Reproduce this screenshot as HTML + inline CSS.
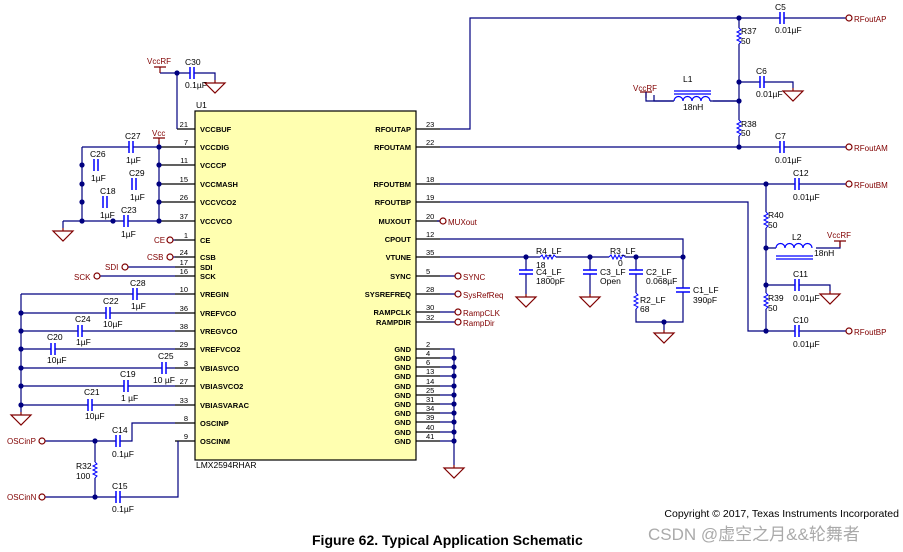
<!DOCTYPE html>
<html><head><meta charset="utf-8"><style>
html,body{margin:0;padding:0;background:#fff;}
svg{display:block;}
text{font-family:"Liberation Sans",sans-serif;}
.w{stroke:#000080;stroke-width:1.2;fill:none;}
.k{stroke:#000;stroke-width:1.2;fill:none;}
.l{font-size:8.5px;fill:#000;}
.p{font-size:7.5px;fill:#000;font-weight:bold;}
.n{font-size:7.5px;fill:#000;}
.r{font-size:8px;fill:#800000;}
</style></head><body>
<svg width="903" height="552" viewBox="0 0 903 552" xmlns="http://www.w3.org/2000/svg">
<defs>
<g id="ch"><rect x="-2" y="-3" width="4" height="6" fill="#fff"/><path d="M-2,-6V6M2,-6V6" stroke="#0000ff" stroke-width="1.5"/></g>
<g id="cv"><rect x="-3" y="-2" width="6" height="4" fill="#fff"/><path d="M-7,-2H7M-7,2H7" stroke="#0000ff" stroke-width="1.5"/></g>
<g id="rv"><rect x="-2" y="-8" width="4" height="16" fill="#fff"/><path d="M0,-8l2,2l-4,2l4,2l-4,2l4,2l-4,2l4,2l-2,2" stroke="#0000ff" stroke-width="1" fill="none"/></g>
<g id="rh"><rect x="-8" y="-2" width="16" height="4" fill="#fff"/><path d="M-8,0l2,-2l2,4l2,-4l2,4l2,-4l2,4l2,-4l2,2" stroke="#0000ff" stroke-width="1" fill="none"/></g>
<g id="gnd"><path d="M0,0v3M-10,3h20l-10,10z" stroke="#800000" stroke-width="1.2" fill="#fff"/></g>
<circle id="d" r="2.6" fill="#000080"/>
<circle id="o" r="3" fill="#fff" stroke="#800000" stroke-width="1.2"/>
<g id="vcc"><path d="M-6,0h12M0,0v6" stroke="#800000" stroke-width="1.2"/></g>
</defs>

<rect x="195" y="111" width="221" height="349" fill="#ffffb0" stroke="#000" stroke-width="1.2"/>
<text x="196" y="108" class="l">U1</text>
<text x="196" y="468" class="l">LMX2594RHAR</text>

<g class="k">
<path d="M177,129H195M159,147H195M159,165H195M159,184H195M159,202H195M159,221H195M175,240H195M175,257H195M175,267H195M175,276H195M175,294H195M175,313H195M175,331H195M175,349H195M175,368H195M175,386H195M175,405H195M175,423H195M175,441H195"/>
</g>
<g class="p">
<text x="200" y="132">VCCBUF</text><text x="200" y="150">VCCDIG</text><text x="200" y="168">VCCCP</text>
<text x="200" y="187">VCCMASH</text><text x="200" y="205">VCCVCO2</text><text x="200" y="224">VCCVCO</text>
<text x="200" y="243">CE</text><text x="200" y="260">CSB</text><text x="200" y="270">SDI</text><text x="200" y="279">SCK</text>
<text x="200" y="297">VREGIN</text><text x="200" y="316">VREFVCO</text><text x="200" y="334">VREGVCO</text>
<text x="200" y="352">VREFVCO2</text><text x="200" y="371">VBIASVCO</text><text x="200" y="389">VBIASVCO2</text>
<text x="200" y="408">VBIASVARAC</text><text x="200" y="426">OSCINP</text><text x="200" y="444">OSCINM</text>
</g>
<g class="n" text-anchor="end">
<text x="188" y="127">21</text><text x="188" y="145">7</text><text x="188" y="163">11</text><text x="188" y="182">15</text>
<text x="188" y="200">26</text><text x="188" y="219">37</text><text x="188" y="238">1</text><text x="188" y="255">24</text>
<text x="188" y="265">17</text><text x="188" y="274">16</text><text x="188" y="292">10</text><text x="188" y="311">36</text>
<text x="188" y="329">38</text><text x="188" y="347">29</text><text x="188" y="366">3</text><text x="188" y="384">27</text>
<text x="188" y="403">33</text><text x="188" y="421">8</text><text x="188" y="439">9</text>
</g>

<g class="k">
<path d="M416,129H440M416,147H440M416,184H440M416,202H440M416,221H440M416,239H440M416,257H440M416,276H440M416,294H440M416,312H440M416,322H440"/>
<path d="M416,349H440M416,358H440M416,367H440M416,376H440M416,386H440M416,395H440M416,404H440M416,413H440M416,422H440M416,432H440M416,441H440"/>
</g>
<g class="p" text-anchor="end">
<text x="411" y="132">RFOUTAP</text><text x="411" y="150">RFOUTAM</text><text x="411" y="187">RFOUTBM</text>
<text x="411" y="205">RFOUTBP</text><text x="411" y="224">MUXOUT</text><text x="411" y="242">CPOUT</text>
<text x="411" y="260">VTUNE</text><text x="411" y="279">SYNC</text><text x="411" y="297">SYSREFREQ</text>
<text x="411" y="315">RAMPCLK</text><text x="411" y="325">RAMPDIR</text>
<text x="411" y="352">GND</text><text x="411" y="361">GND</text><text x="411" y="370">GND</text><text x="411" y="379">GND</text>
<text x="411" y="389">GND</text><text x="411" y="398">GND</text><text x="411" y="407">GND</text><text x="411" y="416">GND</text>
<text x="411" y="425">GND</text><text x="411" y="435">GND</text><text x="411" y="444">GND</text>
</g>
<g class="n">
<text x="426" y="127">23</text><text x="426" y="145">22</text><text x="426" y="182">18</text><text x="426" y="200">19</text>
<text x="426" y="219">20</text><text x="426" y="237">12</text><text x="426" y="255">35</text><text x="426" y="274">5</text>
<text x="426" y="292">28</text><text x="426" y="310">30</text><text x="426" y="320">32</text>
<text x="426" y="347">2</text><text x="426" y="356">4</text><text x="426" y="365">6</text><text x="426" y="374">13</text>
<text x="426" y="384">14</text><text x="426" y="393">25</text><text x="426" y="402">31</text><text x="426" y="411">34</text>
<text x="426" y="420">39</text><text x="426" y="430">40</text><text x="426" y="439">41</text>
</g>

<path class="w" d="M177,129V73M160,73H215V80"/>
<use href="#vcc" x="160" y="67"/><text x="147" y="64" class="r">VccRF</text>
<use href="#d" x="177" y="73"/><use href="#ch" x="192" y="73"/>
<use href="#gnd" x="215" y="80"/>
<text x="185" y="65" class="l">C30</text><text x="185" y="88" class="l">0.1µF</text>

<path class="w" d="M159,141V221M82,147H159M82,147V221M63,221H159M63,221V228"/>
<use href="#vcc" x="159" y="138"/><text x="152" y="136" class="r">Vcc</text>
<use href="#ch" x="131" y="147"/><use href="#ch" x="96" y="165"/><use href="#ch" x="134" y="184"/>
<use href="#ch" x="105" y="202"/><use href="#ch" x="126" y="221"/>
<use href="#d" x="159" y="147"/><use href="#d" x="159" y="165"/><use href="#d" x="159" y="184"/><use href="#d" x="159" y="202"/><use href="#d" x="159" y="221"/>
<use href="#d" x="82" y="165"/><use href="#d" x="82" y="184"/><use href="#d" x="82" y="202"/><use href="#d" x="82" y="221"/><use href="#d" x="113" y="221"/>
<use href="#gnd" x="63" y="228"/>
<g class="l"><text x="125" y="139">C27</text><text x="126" y="163">1µF</text><text x="90" y="157">C26</text><text x="91" y="181">1µF</text>
<text x="129" y="176">C29</text><text x="130" y="200">1µF</text><text x="100" y="194">C18</text><text x="100" y="218">1µF</text>
<text x="121" y="213">C23</text><text x="121" y="237">1µF</text></g>

<path class="w" d="M173,240H175M173,257H175M128,267H175M100,276H175"/>
<use href="#o" x="170" y="240"/><use href="#o" x="170" y="257"/><use href="#o" x="125" y="267"/><use href="#o" x="97" y="276"/>
<text x="154" y="243" class="r">CE</text><text x="147" y="260" class="r">CSB</text><text x="105" y="270" class="r">SDI</text><text x="74" y="280" class="r">SCK</text>

<path class="w" d="M21,294V405M21,294H175M21,313H175M21,331H175M21,349H175M21,368H175M21,386H175M21,405H175M21,405V412"/>
<use href="#ch" x="135" y="294"/><use href="#ch" x="108" y="313"/><use href="#ch" x="80" y="331"/><use href="#ch" x="53" y="349"/>
<use href="#ch" x="164" y="368"/><use href="#ch" x="126" y="386"/><use href="#ch" x="90" y="405"/>
<use href="#d" x="21" y="313"/><use href="#d" x="21" y="331"/><use href="#d" x="21" y="349"/><use href="#d" x="21" y="368"/><use href="#d" x="21" y="386"/><use href="#d" x="21" y="405"/>
<use href="#gnd" x="21" y="412"/>
<g class="l"><text x="130" y="286">C28</text><text x="131" y="309">1µF</text><text x="103" y="304">C22</text><text x="103" y="327">10µF</text>
<text x="75" y="322">C24</text><text x="76" y="345">1µF</text><text x="47" y="340">C20</text><text x="47" y="363">10µF</text>
<text x="158" y="359">C25</text><text x="153" y="383">10 µF</text><text x="120" y="377">C19</text><text x="121" y="401">1 µF</text>
<text x="84" y="395">C21</text><text x="85" y="419">10µF</text></g>

<path class="w" d="M45,441H132V423H175M45,497H178V441M95,441V497"/>
<use href="#o" x="42" y="441"/><use href="#o" x="42" y="497"/>
<use href="#d" x="95" y="441"/><use href="#d" x="95" y="497"/>
<use href="#ch" x="118" y="441"/><use href="#ch" x="118" y="497"/><use href="#rv" x="95" y="470"/>
<text x="7" y="444" class="r">OSCinP</text><text x="7" y="500" class="r">OSCinN</text>
<g class="l"><text x="112" y="433">C14</text><text x="112" y="457">0.1µF</text><text x="112" y="489">C15</text><text x="112" y="512">0.1µF</text>
<text x="76" y="469">R32</text><text x="76" y="479">100</text></g>

<path class="w" d="M440,129H470V18H846M739,18V147M739,82H793V88M654,95V101H739M440,147H846"/>
<use href="#d" x="739" y="18"/><use href="#d" x="739" y="82"/><use href="#d" x="739" y="101"/><use href="#d" x="739" y="147"/>
<use href="#rv" x="739" y="36"/><use href="#rv" x="739" y="128"/>
<use href="#ch" x="782" y="18"/><use href="#ch" x="762" y="82"/><use href="#ch" x="782" y="147"/>
<use href="#gnd" x="793" y="88"/>
<use href="#vcc" x="646" y="92"/>
<rect x="673" y="97" width="40" height="6" fill="#fff"/>
<path d="M674,101a4.5,4.5 0 0 1 9,0a4.5,4.5 0 0 1 9,0a4.5,4.5 0 0 1 9,0a4.5,4.5 0 0 1 9,0" stroke="#0000ff" stroke-width="1.2" fill="none"/>
<path d="M674,91H711M674,94H711" stroke="#0000ff" stroke-width="1.2"/>
<path class="w" d="M646,92V101H674M710,101H739"/>
<use href="#o" x="849" y="18"/><use href="#o" x="849" y="147"/>
<text x="854" y="22" class="r">RFoutAP</text><text x="854" y="151" class="r">RFoutAM</text>
<text x="633" y="91" class="r">VccRF</text>
<g class="l"><text x="775" y="10">C5</text><text x="775" y="33">0.01µF</text><text x="741" y="34">R37</text><text x="741" y="44">50</text>
<text x="756" y="74">C6</text><text x="756" y="97">0.01µF</text><text x="683" y="82">L1</text><text x="683" y="110">18nH</text>
<text x="741" y="127">R38</text><text x="741" y="136">50</text><text x="775" y="139">C7</text><text x="775" y="163">0.01µF</text></g>

<path class="w" d="M440,184H846M440,202H748V331H846M766,184V331M766,285H830V291M766,248H776M816,248H840V241"/>
<use href="#d" x="766" y="184"/><use href="#d" x="766" y="248"/><use href="#d" x="766" y="285"/><use href="#d" x="766" y="331"/>
<use href="#rv" x="766" y="220"/><use href="#rv" x="766" y="301"/>
<use href="#ch" x="797" y="184"/><use href="#ch" x="797" y="285"/><use href="#ch" x="797" y="331"/>
<use href="#gnd" x="830" y="291"/><use href="#vcc" x="840" y="241"/>
<path d="M776,248a4.5,4.5 0 0 1 9,0a4.5,4.5 0 0 1 9,0a4.5,4.5 0 0 1 9,0a4.5,4.5 0 0 1 9,0" stroke="#0000ff" stroke-width="1.2" fill="none"/>
<path d="M776,256H813M776,259H813" stroke="#0000ff" stroke-width="1.2"/>
<use href="#o" x="849" y="184"/><use href="#o" x="849" y="331"/>
<text x="854" y="188" class="r">RFoutBM</text><text x="854" y="335" class="r">RFoutBP</text>
<text x="827" y="238" class="r">VccRF</text>
<g class="l"><text x="793" y="176">C12</text><text x="793" y="200">0.01µF</text><text x="768" y="218">R40</text><text x="768" y="228">50</text>
<text x="792" y="240">L2</text><text x="814" y="256">18nH</text><text x="793" y="277">C11</text><text x="793" y="301">0.01µF</text>
<text x="768" y="301">R39</text><text x="768" y="311">50</text><text x="793" y="323">C10</text><text x="793" y="347">0.01µF</text></g>

<path class="w" d="M440,221H437M440,276H455M440,294H455M440,312H455M440,322H455"/>
<use href="#o" x="443" y="221"/><use href="#o" x="458" y="276"/><use href="#o" x="458" y="294"/><use href="#o" x="458" y="312"/><use href="#o" x="458" y="322"/>
<text x="448" y="225" class="r">MUXout</text><text x="463" y="280" class="r">SYNC</text><text x="463" y="298" class="r">SysRefReq</text>
<text x="463" y="316" class="r">RampCLK</text><text x="463" y="326" class="r">RampDir</text>

<path class="w" d="M440,239H683V322H636V257M440,257H683M526,257V294M590,257V294M664,322V330"/>
<use href="#d" x="526" y="257"/><use href="#d" x="590" y="257"/><use href="#d" x="636" y="257"/><use href="#d" x="683" y="257"/><use href="#d" x="664" y="322"/>
<use href="#rh" x="548" y="257"/><use href="#rh" x="617" y="257"/>
<use href="#cv" x="526" y="272"/><use href="#cv" x="590" y="272"/><use href="#cv" x="636" y="272"/><use href="#cv" x="683" y="290"/>
<use href="#rv" x="636" y="301"/>
<use href="#gnd" x="526" y="294"/><use href="#gnd" x="590" y="294"/><use href="#gnd" x="664" y="330"/>
<g class="l"><text x="536" y="254">R4_LF</text><text x="536" y="268">18</text><text x="536" y="275">C4_LF</text><text x="536" y="284">1800pF</text>
<text x="610" y="254">R3_LF</text><text x="618" y="266">0</text><text x="600" y="275">C3_LF</text><text x="600" y="284">Open</text>
<text x="646" y="275">C2_LF</text><text x="646" y="284">0.068µF</text><text x="640" y="303">R2_LF</text><text x="640" y="312">68</text>
<text x="693" y="293">C1_LF</text><text x="693" y="303">390pF</text></g>

<path class="w" d="M440,349H454V465M440,358H454M440,367H454M440,376H454M440,386H454M440,395H454M440,404H454M440,413H454M440,422H454M440,432H454M440,441H454"/>
<use href="#d" x="454" y="358"/><use href="#d" x="454" y="367"/><use href="#d" x="454" y="376"/><use href="#d" x="454" y="386"/><use href="#d" x="454" y="395"/>
<use href="#d" x="454" y="404"/><use href="#d" x="454" y="413"/><use href="#d" x="454" y="422"/><use href="#d" x="454" y="432"/><use href="#d" x="454" y="441"/>
<use href="#gnd" x="454" y="465"/>

<text x="899" y="517" text-anchor="end" style="font-size:10.5px">Copyright © 2017, Texas Instruments Incorporated</text>
<text x="312" y="545" style="font-size:14px;font-weight:bold">Figure 62.  Typical Application Schematic</text>
<text x="648" y="540" style="font-family:'Liberation Sans','Noto Sans CJK SC',sans-serif;font-size:17px;fill:#aaa">CSDN @虚空之月&amp;&amp;轮舞者</text>
</svg>
</body></html>
